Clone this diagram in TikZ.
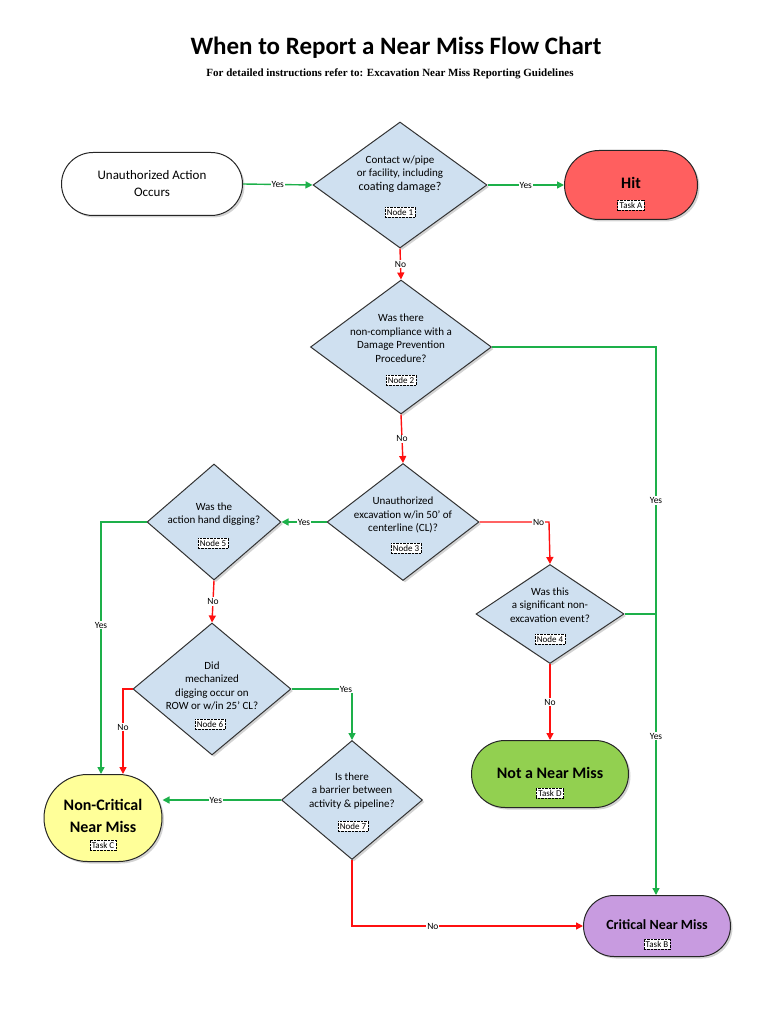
\documentclass[tikz,border=0pt]{standalone}
\usepackage{fontspec}
\setmainfont{Carlito}
\newfontfamily\serifb{Liberation Serif}
\usetikzlibrary{shapes.geometric,shapes.misc,arrows.meta,shadows}
\definecolor{dfill}{HTML}{CFE0F0}
\definecolor{gr}{HTML}{1DB04A}
\definecolor{rd}{HTML}{FF1010}
\begin{document}
\begin{tikzpicture}[x=1pt,y=-1pt,
  dia/.style={diamond,draw=black!80,line width=1pt,fill=dfill,inner sep=0pt,drop shadow={opacity=0.35,shadow xshift=2pt,shadow yshift=-2pt}},
  term/.style={rounded rectangle,draw=black!85,line width=1pt,inner sep=0pt,drop shadow={opacity=0.35,shadow xshift=2pt,shadow yshift=-2pt}},
  dtxt/.style={align=center,font=\fontsize{11}{13.5}\selectfont},
  tag/.style={draw,densely dotted,fill=white,inner sep=2pt,font=\fontsize{9}{10}\selectfont},
  g/.style={draw=gr,line width=1.4pt,-{Triangle[length=7pt,width=7pt]}},
  r/.style={draw=rd,line width=1.4pt,-{Triangle[length=7pt,width=7pt]}},
  lab/.style={fill=white,inner sep=1pt,font=\fontsize{9.5}{10}\selectfont}]
\useasboundingbox (0,0) rectangle (768,1024);
\node at (396,48) {\fontsize{25}{28}\selectfont\bfseries When to Report a Near Miss Flow Chart};
\node at (390,74) {\serifb\fontsize{11}{12}\selectfont\bfseries For detailed instructions refer to: Excavation Near Miss Reporting Guidelines};

% terminals
\node[term,fill=white,minimum width=181pt,minimum height=63pt] (st) at (152,184) {};
\node[dtxt,font=\fontsize{13}{17}\selectfont] (stt) at (152,184) {Unauthorized Action\\Occurs};
\node[term,fill={rgb,255:red,255;green,95;blue,95},minimum width=133pt,minimum height=69pt] (hit) at (631,185) {};
\node[font=\fontsize{16}{18}\selectfont\bfseries] (hitt) at (631,183) {Hit};
\node[tag] (ta) at (631,205) {Task A};
\node[term,fill={rgb,255:red,146;green,208;blue,80},minimum width=157pt,minimum height=67pt] (nn) at (550,774) {};
\node[font=\fontsize{16}{18}\selectfont\bfseries] (nnt) at (550,773) {Not a Near Miss};
\node[tag] (td) at (550,793) {Task D};
\node[term,fill={rgb,255:red,255;green,255;blue,153},minimum width=118pt,minimum height=87pt] (nc) at (103,818) {};
\node[dtxt,font=\fontsize{16}{22}\selectfont\bfseries] (nct) at (103,816) {Non-Critical\\Near Miss};
\node[tag] (tc) at (103,845) {Task C};
\node[term,fill={rgb,255:red,200;green,155;blue,224},minimum width=147pt,minimum height=61pt] (cr) at (657,926) {};
\node[font=\fontsize{14}{16}\selectfont\bfseries] (crt) at (657,925) {Critical Near Miss};
\node[tag] (tb) at (657,944) {Task B};

% diamonds
\node[dia,minimum width=174pt,minimum height=126pt] (d1) at (400,185) {};
\node[dtxt] (d1t) at (400,174) {Contact w/pipe\\or facility, including\\{\fontsize{12}{13}\selectfont coating damage?}};
\node[tag] (n1) at (400,212) {Node 1};
\node[dia,minimum width=181pt,minimum height=134pt] (d2) at (401,347) {};
\node[dtxt] (d2t) at (401,338) {Was there\\non-compliance with a\\Damage Prevention\\Procedure?};
\node[tag] (n2) at (401,380) {Node 2};
\node[dia,minimum width=152pt,minimum height=117pt] (d3) at (403,522) {};
\node[dtxt] (d3t) at (403,515) {Unauthorized\\excavation w/in 50' of\\centerline (CL)?};
\node[tag] (n3) at (406,548) {Node 3};
\node[dia,minimum width=134pt,minimum height=116pt] (d5) at (214,522) {};
\node[dtxt] (d5t) at (214,514) {Was the\\action hand digging?};
\node[tag] (n5) at (213,543) {Node 5};
\node[dia,minimum width=148pt,minimum height=99pt] (d4) at (550,614) {};
\node[dtxt] (d4t) at (550,605) {Was this\\a significant non-\\excavation event?};
\node[tag] (n4) at (550,639) {Node 4};
\node[dia,minimum width=158pt,minimum height=132pt] (d6) at (212,689) {};
\node[dtxt] (d6t) at (212,686) {Did\\mechanized\\digging occur on\\ROW or w/in 25' CL?};
\node[tag] (n6) at (210,724) {Node 6};
\node[dia,minimum width=141pt,minimum height=119pt] (d7) at (352,800) {};
\node[dtxt] (d7t) at (352,791) {Is there\\a barrier between\\activity \& pipeline?};
\node[tag] (n7) at (353,826) {Node 7};

% connectors
\coordinate (c2) at (656,347);
\coordinate (c3) at (549,522);
\coordinate (c5) at (101,522);
\coordinate (c6) at (123,689);
\coordinate (c6b) at (352,689);
\coordinate (c7) at (352,926);
\coordinate (c4) at (656,614);
\draw[g] (st.east) -- node[lab]{Yes} (d1.west);
\draw[g] (d1.east) -- node[lab]{Yes} (hit.west);
\draw[r] (d1.south) -- node[lab]{No} (d2.north);
\draw[r] (d2.south) -- node[lab]{No} (d3.north);
\draw[g] (d2.east) -- (c2) -- node[lab,pos=0.28]{Yes} node[lab,pos=0.71]{Yes} (c2 |- cr.north);
\draw[draw=gr,line width=1.4pt] (d4.east) -- (c4);
\draw[g] (d3.west) -- node[lab]{Yes} (d5.east);
\draw[r] (d3.east) -- node[lab,pos=0.85]{No} (c3) -- (d4.north);
\draw[g] (d5.west) -- (c5) -- node[lab,pos=0.41]{Yes} (c5 |- nc.north);
\draw[r] (d5.south) -- node[lab]{No} (d6.north);
\draw[r] (d6.west) -- (c6) -- node[lab,pos=0.45]{No} (c6 |- nc.north);
\draw[g] (d6.east) -- node[lab,pos=0.9]{Yes} (c6b) -- (d7.north);
\draw[g] (d7.west) -- node[lab,pos=0.55]{Yes} (d7.west -| nc.east);
\draw[r] (d7.south) -- (c7) -- node[lab,pos=0.35]{No} (cr.west);
\draw[r] (d4.south) -- node[lab]{No} (nn.north);
\end{tikzpicture}
\end{document}
